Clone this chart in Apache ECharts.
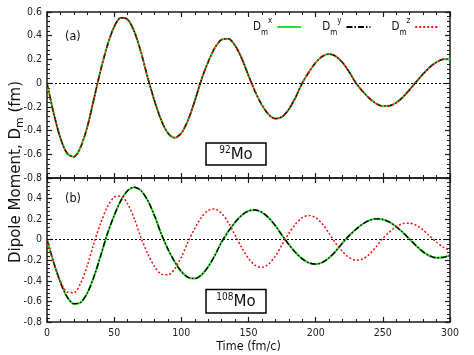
<!DOCTYPE html>
<html>
<head>
<meta charset="utf-8">
<script src="https://cdn.jsdelivr.net/npm/echarts@6/dist/echarts.min.js"></script>
<style>
html,body{margin:0;padding:0;background:#fff;}
#chart{width:474px;height:355px;}
</style>
</head>
<body>
<div id="chart"></div>
<script>
const timeFmC = [0, 5, 10, 15, 20, 25, 30, 35, 40, 45, 50, 55, 60, 65, 70, 75, 80, 85, 90, 95,
  100, 105, 110, 115, 120, 125, 130, 135, 140, 145, 150, 155, 160, 165, 170, 175, 180, 185, 190, 195,
  200, 205, 210, 215, 220, 225, 230, 235, 240, 245, 250, 255, 260, 265, 270, 275, 280, 285, 290, 295, 300];

// Panel (a): 92Mo, Dx = Dy = Dz (all three curves coincide)
const mo92Dx = [0, -0.254, -0.464, -0.593, -0.621, -0.540, -0.367, -0.130,
  0.113, 0.320, 0.475, 0.551, 0.537, 0.435, 0.261, 0.046,
  -0.149, -0.311, -0.421, -0.460, -0.421, -0.311, -0.150,
  0.031, 0.180, 0.299, 0.367, 0.374, 0.317, 0.208, 0.063,
  -0.074, -0.184, -0.264, -0.299, -0.284, -0.221, -0.121, 0,
  0.094, 0.173, 0.226, 0.245, 0.226, 0.173, 0.094, 0,
  -0.069, -0.128, -0.172, -0.194, -0.191, -0.165, -0.117, -0.055,
  0.013, 0.078, 0.135, 0.177, 0.201, 0.203];
const mo92Dy = mo92Dx.slice();
const mo92Dz = mo92Dx.slice();

// Panel (b): 108Mo, Dx = Dy, Dz differs
const mo108Dx = [0, -0.222, -0.416, -0.556, -0.623, -0.610, -0.518, -0.358, -0.153,
  0.059, 0.235, 0.381, 0.477, 0.510, 0.477, 0.381, 0.235, 0.059,
  -0.091, -0.213, -0.309, -0.366, -0.377, -0.342, -0.263, -0.152, -0.022,
  0.081, 0.169, 0.238, 0.280, 0.289, 0.266, 0.213, 0.136, 0.043,
  -0.046, -0.124, -0.186, -0.225, -0.237, -0.220, -0.176, -0.111, -0.032,
  0.041, 0.102, 0.153, 0.188, 0.203, 0.197, 0.171, 0.126, 0.069, 0.004,
  -0.061, -0.118, -0.158, -0.176, -0.171, -0.150];
const mo108Dy = mo108Dx.slice();
const mo108Dz = [0, -0.223, -0.404, -0.508, -0.515, -0.424, -0.252, -0.032,
  0.163, 0.320, 0.413, 0.424, 0.349, 0.205, 0.019,
  -0.136, -0.260, -0.334, -0.342, -0.283, -0.169, -0.022,
  0.110, 0.218, 0.284, 0.298, 0.256, 0.166, 0.044,
  -0.078, -0.182, -0.250, -0.269, -0.237, -0.158, -0.048,
  0.061, 0.152, 0.214, 0.236, 0.214, 0.152, 0.061,
  -0.035, -0.115, -0.173, -0.199, -0.188, -0.141, -0.068,
  0.013, 0.076, 0.127, 0.157, 0.161, 0.139, 0.094, 0.034,
  -0.025, -0.072, -0.104];

const seriesNames = ['Dmx', 'Dmy', 'Dmz'];
const xTicks = {min: 0, max: 300, interval: 50};
const yTicks = {min: -0.8, max: 0.6, interval: 0.2};
const panelLabels = ['(a)', '(b)'];
const nucleusLabels = [['92', 'Mo'], ['108', 'Mo']];

// ---- Styling ----
const COND = '"DejaVu Sans Condensed", "DejaVu Sans", sans-serif';
const SANS = '"DejaVu Sans", sans-serif';
const AX = '#1a1a1a';
const GREEN = '#2ee02e', BLACK = '#000000', RED = '#ee1111';

const pairs = (t, v) => t.map((x, i) => [x, v[i]]);

function xAx(grid, pos, labels, name) {
  return {
    type: 'value', gridIndex: grid, position: pos,
    min: xTicks.min, max: xTicks.max, interval: xTicks.interval,
    axisLine: {show: true, onZero: false, lineStyle: {color: AX, width: 1.5}},
    axisTick: {show: true, inside: true, length: 5, lineStyle: {color: AX, width: 1.2}},
    minorTick: {show: true, splitNumber: 5, length: 3, lineStyle: {color: AX, width: 1}},
    splitLine: {show: false},
    axisLabel: {show: labels, color: '#222', fontSize: 10.5, fontFamily: COND, margin: 6},
    name: name || '', nameLocation: 'middle', nameGap: 17,
    nameTextStyle: {color: '#111', fontSize: 12.5, fontFamily: COND}
  };
}
function yAx(grid, pos, labels, hideTop) {
  return {
    type: 'value', gridIndex: grid, position: pos,
    min: yTicks.min, max: yTicks.max, interval: yTicks.interval,
    axisLine: {show: true, onZero: false, lineStyle: {color: AX, width: 1.5}},
    axisTick: {show: true, inside: true, length: 5, lineStyle: {color: AX, width: 1.2}},
    minorTick: {show: true, splitNumber: 5, length: 3, lineStyle: {color: AX, width: 1}},
    splitLine: {show: false},
    axisLabel: {
      show: labels, color: '#222', fontSize: 10.5, fontFamily: COND, margin: 5,
      formatter: v => {
        if (hideTop && v > 0.55) return '';
        if (Math.abs(v) < 1e-9) return '0';
        return (Math.round(v * 10) / 10).toFixed(1);
      }
    }
  };
}
function zeroLine() {
  return {
    silent: true, symbol: 'none', animation: false,
    label: {show: false},
    lineStyle: {color: '#000', type: [2, 2], width: 1.2},
    data: [{yAxis: 0}]
  };
}
function curve(name, data, xi, yi, color, type, width, withZero) {
  const s = {
    name, type: 'line', data, xAxisIndex: xi, yAxisIndex: yi,
    smooth: 0.3, showSymbol: false, symbol: 'none',
    itemStyle: {color},
    lineStyle: {color, type, width},
    emphasis: {disabled: true}
  };
  if (withZero) s.markLine = zeroLine();
  return s;
}

const rich = {
  n: {fontSize: 11.5, fontFamily: COND, color: '#111', lineHeight: 16},
  s: {fontSize: 8, fontFamily: COND, color: '#111', verticalAlign: 'bottom', lineHeight: 14},
  p: {fontSize: 8, fontFamily: COND, color: '#111', verticalAlign: 'top', lineHeight: 20}
};

const chart = echarts.init(document.getElementById('chart'), null, {renderer: 'canvas'});
chart.setOption({
  animation: false,
  backgroundColor: '#fff',
  grid: [
    {left: 47, top: 12, width: 403, height: 166},
    {left: 47, top: 178, width: 403, height: 144}
  ],
  xAxis: [xAx(0, 'bottom', false), xAx(0, 'top', false), xAx(1, 'bottom', true, 'Time (fm/c)'), xAx(1, 'top', false)],
  yAxis: [yAx(0, 'left', true, false), yAx(0, 'right', false), yAx(1, 'left', true, true), yAx(1, 'right', false)],
  legend: {
    data: seriesNames, left: 248, top: 12, orient: 'horizontal',
    align: 'right', itemWidth: 24, itemHeight: 12, itemGap: 20,
    selectedMode: false,
    itemStyle: {opacity: 0, borderWidth: 0},
    formatter: name => '{n|D}{s|m}{p|' + name.slice(2) + '}',
    textStyle: {rich}
  },
  series: [
    curve(seriesNames[0], pairs(timeFmC, mo92Dx), 0, 0, GREEN, 'solid', 2, true),
    curve(seriesNames[1], pairs(timeFmC, mo92Dy), 0, 0, BLACK, [6, 2, 1.5, 2], 1.4, false),
    curve(seriesNames[2], pairs(timeFmC, mo92Dz), 0, 0, RED, [2, 2], 1.5, false),
    curve(seriesNames[0], pairs(timeFmC, mo108Dx), 2, 2, GREEN, 'solid', 2, true),
    curve(seriesNames[1], pairs(timeFmC, mo108Dy), 2, 2, BLACK, [6, 2, 1.5, 2], 1.4, false),
    curve(seriesNames[2], pairs(timeFmC, mo108Dz), 2, 2, RED, [2, 2], 1.5, false)
  ],
  graphic: [
    {type: 'text', left: 65, top: 30, silent: true,
     style: {text: panelLabels[0], fontSize: 12.5, fontFamily: COND, fill: '#111'}},
    {type: 'text', left: 65, top: 192, silent: true,
     style: {text: panelLabels[1], fontSize: 12.5, fontFamily: COND, fill: '#111'}},
    {type: 'rect', silent: true, shape: {x: 206, y: 143, width: 60, height: 22},
     style: {fill: '#fff', stroke: '#000', lineWidth: 1.5}},
    {type: 'text', silent: true, x: 236, y: 154,
     style: {text: '{p|' + nucleusLabels[0][0] + '}{m|' + nucleusLabels[0][1] + '}',
       align: 'center', verticalAlign: 'middle', textAlign: 'center', textVerticalAlign: 'middle',
       rich: {p: {fontSize: 10, fontFamily: COND, fill: '#111', verticalAlign: 'top', lineHeight: 18},
              m: {fontSize: 15, fontFamily: SANS, fill: '#111', lineHeight: 16, verticalAlign: 'bottom'}}}},
    {type: 'rect', silent: true, shape: {x: 206, y: 289.5, width: 60, height: 23.5},
     style: {fill: '#fff', stroke: '#000', lineWidth: 1.5}},
    {type: 'text', silent: true, x: 236, y: 301,
     style: {text: '{p|' + nucleusLabels[1][0] + '}{m|' + nucleusLabels[1][1] + '}',
       align: 'center', verticalAlign: 'middle', textAlign: 'center', textVerticalAlign: 'middle',
       rich: {p: {fontSize: 10, fontFamily: COND, fill: '#111', verticalAlign: 'top', lineHeight: 18},
              m: {fontSize: 15, fontFamily: SANS, fill: '#111', lineHeight: 16, verticalAlign: 'bottom'}}}},
    {type: 'text', silent: true, x: 16, y: 172, rotation: Math.PI / 2,
     style: {text: '{a|Dipole Moment, D}{b|m}{a| (fm)}',
       align: 'center', verticalAlign: 'middle', textAlign: 'center', textVerticalAlign: 'middle',
       rich: {a: {fontSize: 15, fontFamily: SANS, fill: '#111', lineHeight: 20, verticalAlign: 'middle'},
              b: {fontSize: 11, fontFamily: SANS, fill: '#111', lineHeight: 14, verticalAlign: 'bottom'}}}}
  ]
});
</script>
</body>
</html>
